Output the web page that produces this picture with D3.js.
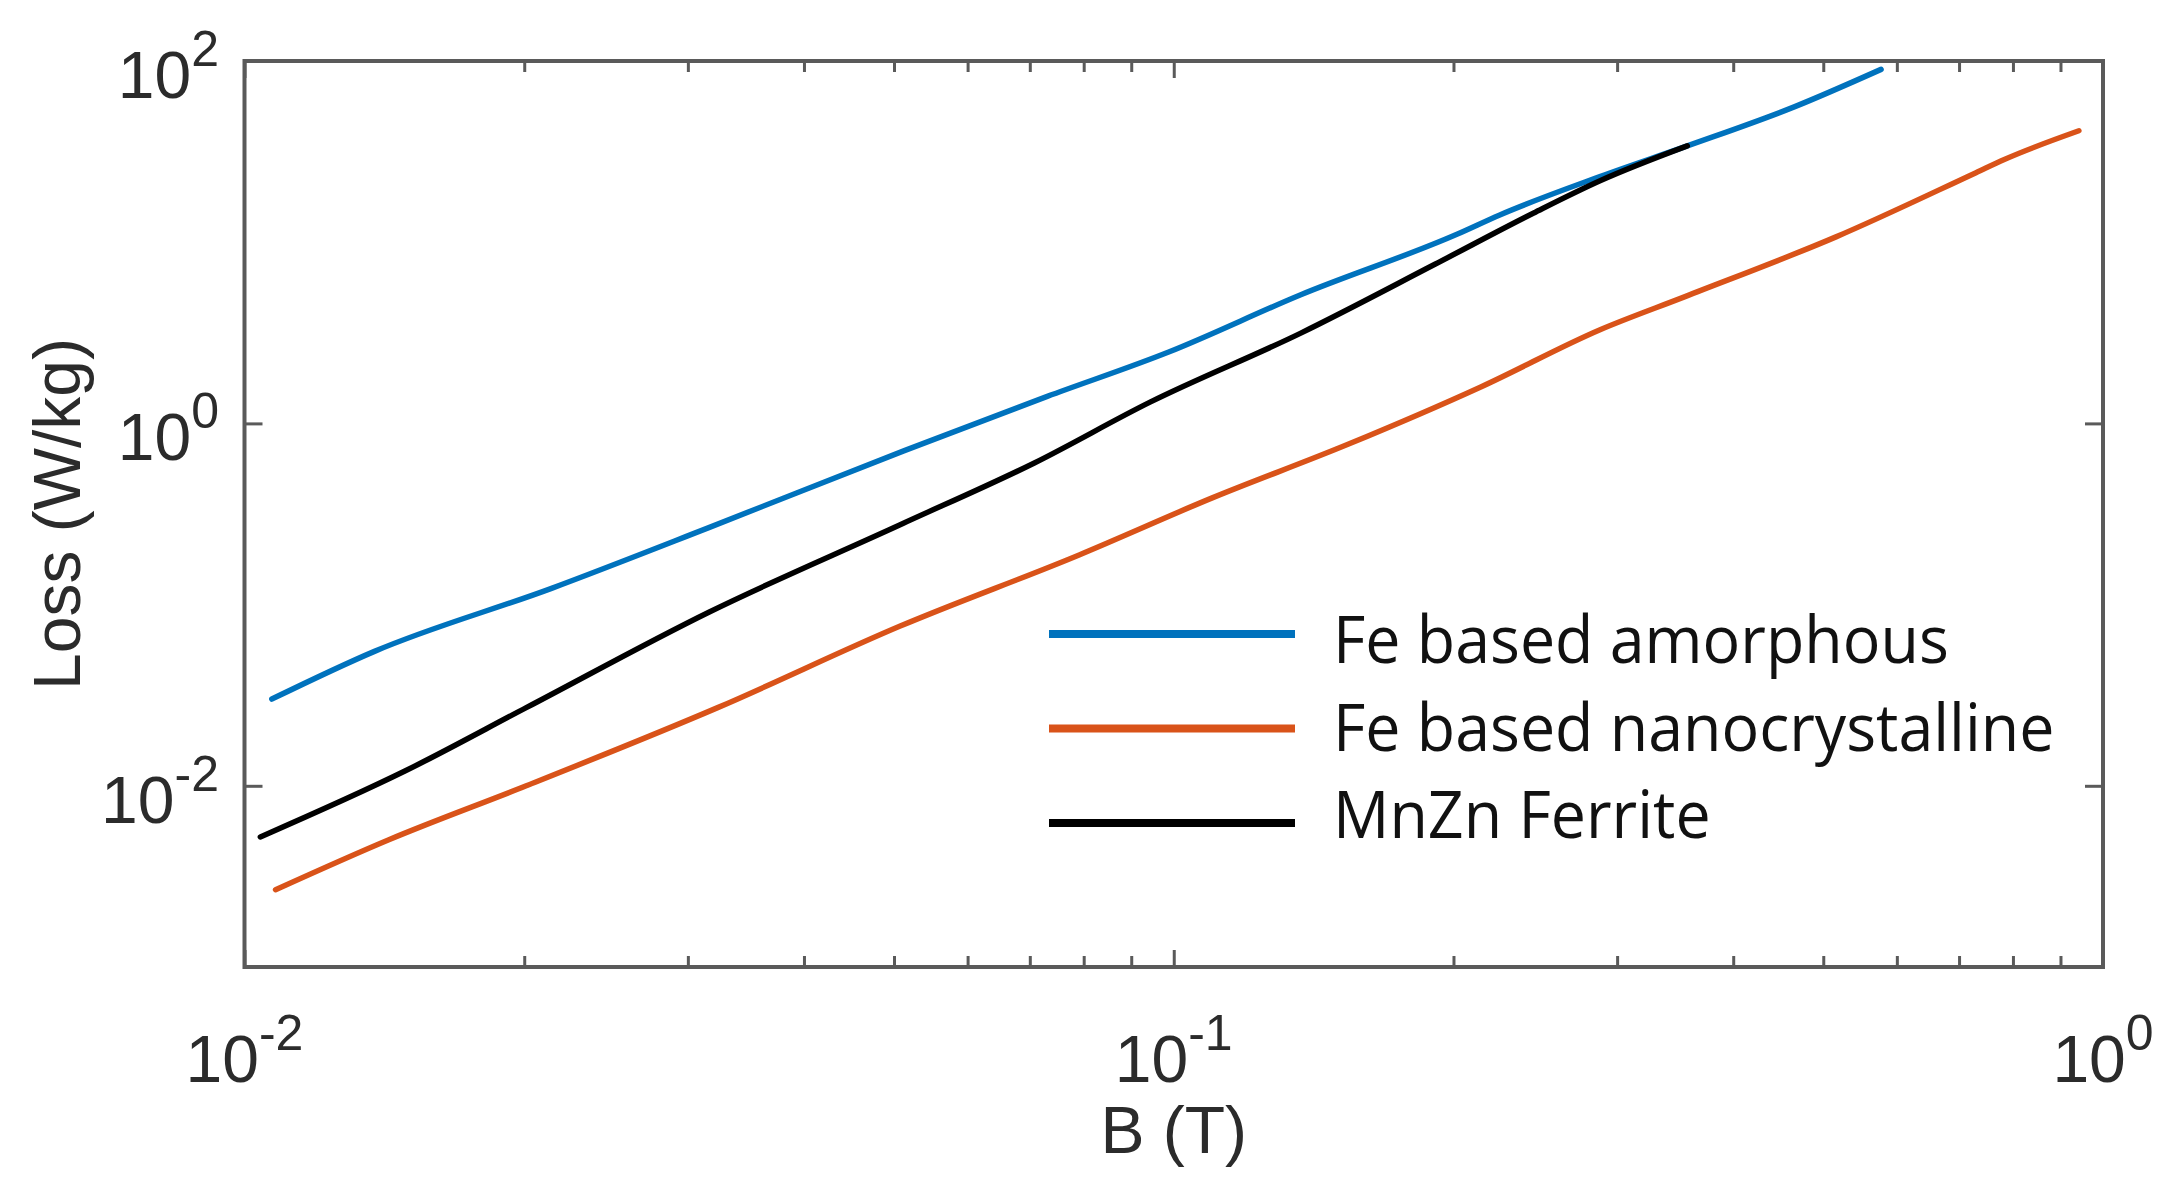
<!DOCTYPE html>
<html>
<head>
<meta charset="utf-8">
<script src="https://cdn.jsdelivr.net/npm/d3@7"></script>
<style>
body{margin:0;background:#fff;}
svg{display:block;}
</style>
</head>
<body>
<div id="c-svg"></div>
<script>
//values: B in T, loss in W/kg
let seriesNames = ["Fe based amorphous", "Fe based nanocrystalline", "MnZn Ferrite"];
let seriesColors = ["#0072bd", "#d95319", "#000000"];

let bAmorphous = [0.0107, 0.0138, 0.0214, 0.0316, 0.0513, 0.0731, 0.0986, 0.137, 0.202, 0.224, 0.288, 0.357, 0.466, 0.577];
let lossAmorphous = [0.0301, 0.0552, 0.123, 0.266, 0.708, 1.41, 2.47, 5.13, 11.1, 14.1, 23.1, 34.0, 56.0, 89.9];

let bNano = [0.0108, 0.0143, 0.0201, 0.0323, 0.0507, 0.0791, 0.110, 0.154, 0.214, 0.288, 0.355, 0.516, 0.730, 0.783, 0.942];
let lossNano = [0.00267, 0.00504, 0.0100, 0.0270, 0.0759, 0.188, 0.388, 0.767, 1.59, 3.30, 5.01, 10.7, 24.2, 28.6, 41.2];

let bFerrite = [0.0104, 0.0149, 0.0201, 0.0316, 0.0507, 0.0707, 0.0943, 0.137, 0.191, 0.244, 0.288, 0.357];
let lossFerrite = [0.00522, 0.0121, 0.0270, 0.0908, 0.275, 0.603, 1.31, 3.15, 7.55, 14.5, 21.9, 34.0];

//tick values and their exponent labels
let xTickValues = [0.01, 0.1, 1];
let xTickExps = ["-2", "-1", "0"];
let yTickValues = [0.01, 1, 100];
let yTickExps = ["-2", "0", "2"];

let xTitle = "B (T)";
let yTitle = "Loss (W/kg)";


function graph(){

	//sizing
	let width = 2171;
	let height = 1187;
	let margin = {top:61, right:68, bottom:220, left:244.5};

	let svg = d3.select("#c-svg")
		.append("svg")
		.attr("width", width)
		.attr("height", height)
		.style("background", "#fff");

	const xScale = d3.scaleLog()
		.domain([0.01, 1])
		.range([margin.left, width - margin.right]);

	const yScale = d3.scaleLog()
		.domain([0.001, 100])
		.range([height - margin.bottom, margin.top]);

	let axisColor = "#5a5a5a";
	let textColor = "#2b2b2b";

	//minor x ticks come from the log scale itself
	let xMinor = xScale.ticks().filter((d)=>{ return xTickValues.indexOf(d) < 0; });

	function styleAxis(g){
		g.select(".domain").remove();
		g.selectAll(".tick line").attr("stroke", axisColor).attr("stroke-width", 3);
		g.selectAll(".tick text").remove();
	}

	//bottom and top, major and minor, ticks pointing inwards
	svg.append("g")
		.attr("transform", `translate(0,${height - margin.bottom})`)
		.call(d3.axisBottom(xScale).tickValues(xTickValues).tickSizeInner(-17).tickSizeOuter(0))
		.call(styleAxis);
	svg.append("g")
		.attr("transform", `translate(0,${height - margin.bottom})`)
		.call(d3.axisBottom(xScale).tickValues(xMinor).tickSizeInner(-11).tickSizeOuter(0))
		.call(styleAxis);
	svg.append("g")
		.attr("transform", `translate(0,${margin.top})`)
		.call(d3.axisTop(xScale).tickValues(xTickValues).tickSizeInner(-17).tickSizeOuter(0))
		.call(styleAxis);
	svg.append("g")
		.attr("transform", `translate(0,${margin.top})`)
		.call(d3.axisTop(xScale).tickValues(xMinor).tickSizeInner(-11).tickSizeOuter(0))
		.call(styleAxis);

	//left and right
	svg.append("g")
		.attr("transform", `translate(${margin.left},0)`)
		.call(d3.axisLeft(yScale).tickValues(yTickValues).tickSizeInner(-18).tickSizeOuter(0))
		.call(styleAxis);
	svg.append("g")
		.attr("transform", `translate(${width - margin.right},0)`)
		.call(d3.axisRight(yScale).tickValues(yTickValues).tickSizeInner(-18).tickSizeOuter(0))
		.call(styleAxis);

	//box
	svg.append("rect")
		.attr("x", margin.left)
		.attr("y", margin.top)
		.attr("width", width - margin.right - margin.left)
		.attr("height", height - margin.bottom - margin.top)
		.attr("fill", "none")
		.attr("stroke", axisColor)
		.attr("stroke-width", 4);

	//tick labels 10^n
	let fontFamily = "'Liberation Sans', Arial, sans-serif";

	let xLabels = svg.append("g")
		.selectAll("text")
		.data(xTickValues)
		.enter()
		.append("text")
		.attr("x", (d)=>{ return xScale(d); })
		.attr("y", 1082)
		.attr("text-anchor", "middle")
		.attr("font-family", fontFamily)
		.attr("font-size", 66)
		.attr("fill", textColor);
	xLabels.append("tspan").text("10");
	xLabels.append("tspan")
		.attr("dy", -32)
		.attr("font-size", 50)
		.text((d, i)=>{ return xTickExps[i]; });

	let yLabels = svg.append("g")
		.selectAll("text")
		.data(yTickValues)
		.enter()
		.append("text")
		.attr("x", 219)
		.attr("y", (d)=>{ return yScale(d) + 37; })
		.attr("text-anchor", "end")
		.attr("font-family", fontFamily)
		.attr("font-size", 66)
		.attr("fill", textColor);
	yLabels.append("tspan").text("10");
	yLabels.append("tspan")
		.attr("dy", -32)
		.attr("font-size", 50)
		.text((d, i)=>{ return yTickExps[i]; });

	//axis titles
	svg.append("text")
		.attr("x", (margin.left + width - margin.right) / 2)
		.attr("y", 1153)
		.attr("text-anchor", "middle")
		.attr("font-family", fontFamily)
		.attr("font-size", 66)
		.attr("fill", textColor)
		.text(xTitle);

	svg.append("text")
		.attr("transform", `translate(80,${(margin.top + height - margin.bottom) / 2}) rotate(-90)`)
		.attr("text-anchor", "middle")
		.attr("font-family", fontFamily)
		.attr("font-size", 66)
		.attr("fill", textColor)
		.text(yTitle);

	//lines
	let series = [
		{name: seriesNames[0], color: seriesColors[0], b: bAmorphous, loss: lossAmorphous},
		{name: seriesNames[1], color: seriesColors[1], b: bNano, loss: lossNano},
		{name: seriesNames[2], color: seriesColors[2], b: bFerrite, loss: lossFerrite}
	];

	let line = d3.line()
		.x((d)=>{ return xScale(d[0]); })
		.y((d)=>{ return yScale(d[1]); })
		.curve(d3.curveMonotoneX);

	svg.append("g")
		.selectAll("path")
		.data(series)
		.enter()
		.append("path")
		.attr("d", (s)=>{ return line(s.b.map((v, i)=>{ return [v, s.loss[i]]; })); })
		.attr("fill", "none")
		.attr("stroke", (s)=>{ return s.color; })
		.attr("stroke-width", 5.5)
		.attr("stroke-linejoin", "round")
		.attr("stroke-linecap", "round");

	//legend
	let legendLineY = d3.scalePoint()
		.domain(seriesNames)
		.range([634, 823]);

	let legendTextY = d3.scalePoint()
		.domain(seriesNames)
		.range([663, 838]);

	let legend = svg.append("g")
		.selectAll("g")
		.data(series)
		.enter()
		.append("g");

	legend.append("line")
		.attr("x1", 1049)
		.attr("x2", 1295)
		.attr("y1", (s)=>{ return legendLineY(s.name); })
		.attr("y2", (s)=>{ return legendLineY(s.name); })
		.attr("stroke", (s)=>{ return s.color; })
		.attr("stroke-width", 8);

	legend.append("text")
		.attr("transform", (s)=>{ return `translate(1333,${legendTextY(s.name)}) scale(0.95,1)`; })
		.attr("font-family", "'Open Sans', 'Noto Sans', sans-serif")
		.attr("font-size", 66)
		.attr("fill", "#111")
		.text((s)=>{ return s.name; });

} //function graph


graph();
</script>
</body>
</html>
